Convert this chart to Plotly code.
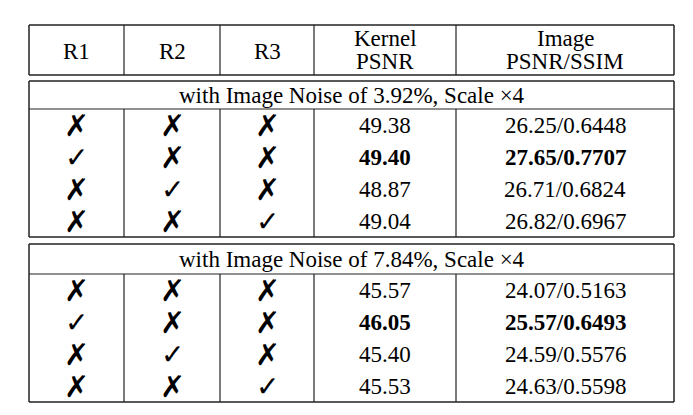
import plotly.graph_objects as go

headers = [["R1"], ["R2"], ["R3"], ["Kernel", "PSNR"], ["Image", "PSNR/SSIM"]]
noise_titles = ["with Image Noise of 3.92%, Scale \u00d74",
                "with Image Noise of 7.84%, Scale \u00d74"]
r1 = [[0, 1, 0, 0], [0, 1, 0, 0]]
r2 = [[0, 0, 1, 0], [0, 0, 1, 0]]
r3 = [[0, 0, 0, 1], [0, 0, 0, 1]]
kernel_psnr = [[49.38, 49.40, 48.87, 49.04], [45.57, 46.05, 45.40, 45.53]]
image_psnr = [[26.25, 27.65, 26.71, 26.82], [24.07, 25.57, 24.59, 24.63]]
image_ssim = [[0.6448, 0.7707, 0.6824, 0.6967], [0.5163, 0.6493, 0.5576, 0.5598]]
best_row = [1, 1]

W, H = 693, 415
col_x = [21, 116, 212, 306, 448, 666]
col_c = [(a + b) / 2 for a, b in zip(col_x[:-1], col_x[1:])]
FONT = "Liberation Serif, DejaVu Serif, serif"

fig = go.Figure()
shapes = []
ann = []


def hline(y, x0=col_x[0], x1=col_x[-1], w=1.5):
    shapes.append(dict(type="line", x0=x0, x1=x1, y0=y, y1=y,
                       line=dict(color="#222", width=w)))


def vline(x, y0, y1, w=1.2):
    shapes.append(dict(type="line", x0=x, x1=x, y0=y0, y1=y1,
                       line=dict(color="#222", width=w)))


def text(x, y, s, size=23, bold=False, family=FONT):
    if bold:
        s = "<b>" + s + "</b>"
    ann.append(dict(x=x, y=y, text=s, showarrow=False, xref="x", yref="y",
                    font=dict(family=family, size=size, color="black")))


# header block
hy0, hy1 = 17, 67
hline(hy0)
hline(hy1)
for i, x in enumerate(col_x):
    vline(x, hy0, hy1, 1.5 if i in (0, len(col_x) - 1) else 1.2)
for c, h in zip(col_c, headers):
    if len(h) == 1:
        text(c, (hy0 + hy1) / 2 + 1, h[0])
    else:
        text(c, 30, h[0])
        text(c, 53, h[1])

blocks = [(73, 101, 229), (236, 266, 394)]
mark = {0: "\u2717", 1: "\u2713"}
for b, (top, sub, bot) in enumerate(blocks):
    hline(top)
    hline(sub, w=1.2)
    hline(bot)
    vline(col_x[0], top, bot, 1.5)
    vline(col_x[-1], top, bot, 1.5)
    for x in col_x[1:-1]:
        vline(x, sub, bot)
    text((col_x[0] + col_x[-1]) / 2, (top + sub) / 2, noise_titles[b])
    rh = (bot - sub) / 4
    for i in range(4):
        y = sub + rh * (i + 0.5)
        bold = best_row[b] == i
        for j, flags in enumerate([r1, r2, r3]):
            v = flags[b][i]
            text(col_c[j], y, mark[v], size=30 if v == 0 else 28,
                 family="DejaVu Sans, sans-serif" if v == 0 else FONT)
        text(col_c[3], y, f"{kernel_psnr[b][i]:.2f}", bold=bold)
        text(col_c[4], y, f"{image_psnr[b][i]:.2f}/{image_ssim[b][i]:.4f}",
             bold=bold)

fig.update_layout(width=W, height=H, margin=dict(l=0, r=0, t=0, b=0),
                  plot_bgcolor="white", paper_bgcolor="white",
                  shapes=shapes, annotations=ann,
                  xaxis=dict(range=[0, W], visible=False),
                  yaxis=dict(range=[H, 0], visible=False))
fig.write_html("out.html")
